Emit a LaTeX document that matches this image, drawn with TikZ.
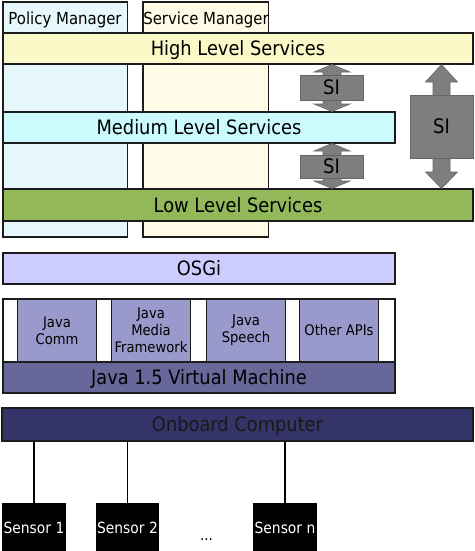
\documentclass[tikz,border=0pt]{standalone}
\usepackage{fontspec}
\setmainfont{DejaVu Sans}[FakeStretch=0.9]
\definecolor{bord}{HTML}{1C1C1C}
\definecolor{pmfill}{HTML}{E6F8FC}
\definecolor{smfill}{HTML}{FFFBE6}
\definecolor{hlsfill}{HTML}{FCF9C9}
\definecolor{mlsfill}{HTML}{CCFBFE}
\definecolor{llsfill}{HTML}{92B85A}
\definecolor{osgifill}{HTML}{CCCCFF}
\definecolor{apifill}{HTML}{9999CC}
\definecolor{vmfill}{HTML}{67679A}
\definecolor{ocfill}{HTML}{343468}
\definecolor{sigray}{HTML}{7E7E7E}
\definecolor{sidraw}{HTML}{666666}
\begin{document}
\begin{tikzpicture}[x=1pt,y=-1pt,
  bx/.style={rectangle, draw=bord, line width=1.4pt, inner sep=0pt, outer sep=0pt, anchor=center},
  big/.style={font=\fontsize{19.8}{22}\selectfont, text height=14.4pt, text depth=0pt},
  mid/.style={font=\fontsize{16.6}{19}\selectfont, text height=12.1pt, text depth=0pt},
  api/.style={bx, fill=apifill, minimum width=79pt, minimum height=63pt, align=center, font=\fontsize{14.6}{17}\selectfont},
  sensorbox/.style={rectangle, fill=black, text=white, inner sep=0pt, minimum height=50pt, font=\fontsize{15.4}{17}\selectfont, text height=11.2pt, text depth=0pt},
  siarrow/.style={fill=sigray, draw=sidraw, line width=0.6pt},
  sibox/.style={rectangle, fill=sigray, draw=sidraw, line width=0.6pt, inner sep=0pt, font=\fontsize{20}{22}\selectfont, text height=14.6pt, text depth=0pt},
  wire/.style={draw=black, line width=1.2pt}
]
\useasboundingbox (0,0) rectangle (474,551);
% manager columns
\node[bx, fill=pmfill, minimum width=124.5pt, minimum height=235pt] (pm) at (65.25,119.5) {};
\node[bx, fill=smfill, minimum width=125.5pt, minimum height=235pt] (sm) at (205.75,119.5) {};
\node[mid, inner sep=0pt] (pmlabel) at (65,18.3) {Policy Manager};
\node[mid, inner sep=0pt] (smlabel) at (206,18.3) {Service Manager};
% service layers
\node[bx, big, fill=hlsfill, minimum width=470pt, minimum height=31pt] (hls) at (238,48.5) {High Level Services};
\node[bx, big, fill=mlsfill, minimum width=392pt, minimum height=31pt] (mls) at (199,127.5) {Medium Level Services};
\node[bx, big, fill=llsfill, minimum width=470pt, minimum height=32pt] (lls) at (238,205) {Low Level Services};
% SI arrows
\path[siarrow] (332,64.5) -- (350,72) -- (341,72) -- (341,104) -- (350,104) -- (332,111.5) -- (314,104) -- (323,104) -- (323,72) -- (314,72) -- cycle;
\node[sibox, minimum width=63pt, minimum height=25pt] (si1) at (331.5,87.5) {SI};
\path[siarrow] (332,143.5) -- (350,151) -- (341,151) -- (341,181) -- (350,181) -- (332,188.5) -- (314,181) -- (323,181) -- (323,151) -- (314,151) -- cycle;
\node[sibox, minimum width=63pt, minimum height=23pt] (si2) at (331.5,166.5) {SI};
\path[siarrow] (441.5,64.5) -- (457.5,82) -- (450,82) -- (450,172) -- (457.5,172) -- (441.5,188.5) -- (425.5,172) -- (433,172) -- (433,82) -- (425.5,82) -- cycle;
\node[sibox, minimum width=63pt, minimum height=63pt] (si3) at (441.5,126.5) {SI};
% OSGi
\node[bx, big, fill=osgifill, minimum width=392pt, minimum height=31pt] (osgi) at (199,268.5) {OSGi};
% API row
\node[bx, fill=white, minimum width=392pt, minimum height=63pt] (apirow) at (199,330.5) {};
\node[api] (jcomm) at (57,330.5) {Java\\Comm};
\node[api] (jmf) at (151,330.5) {Java\\Media\\Framework};
\node[api] (jspeech) at (246,330.5) {Java\\Speech};
\node[api] (other) at (339,330.5) {Other APIs};
\node[bx, big, fill=vmfill, minimum width=392pt, minimum height=31pt] (vm) at (199,377.5) {Java 1.5 Virtual Machine};
% onboard computer
\node[bx, big, fill=ocfill, text=black!90, minimum width=471pt, minimum height=33pt] (oc) at (237.5,424.5) {Onboard Computer};
% sensors
\node[sensorbox, minimum width=64pt] (s1) at (34,528) {Sensor 1};
\node[sensorbox, minimum width=63pt] (s2) at (127.5,528) {Sensor 2};
\node[sensorbox, minimum width=64pt] (sn) at (285,528) {Sensor n};
\node[font=\fontsize{15}{17}\selectfont, inner sep=0pt] (dots) at (206.5,540) {...};
\draw[wire] (s1.north) -- (s1.north |- oc.south);
\draw[wire] (s2.north) -- (s2.north |- oc.south);
\draw[wire] (sn.north) -- (sn.north |- oc.south);
\end{tikzpicture}
\end{document}
